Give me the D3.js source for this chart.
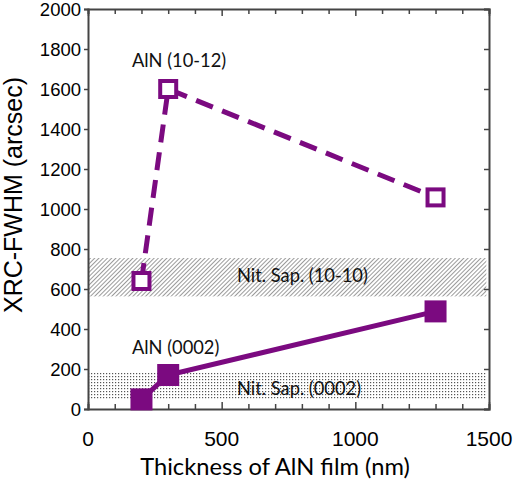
<!DOCTYPE html>
<html><head><meta charset="utf-8">
<script src="https://cdn.jsdelivr.net/npm/d3@7"></script>
<style>body{margin:0;background:#fff}svg{display:block}</style>
</head><body>
<script>
const thickness = [200, 300, 1300];
const fwhm1012 = [640, 1600, 1058];
const fwhm0002 = [48, 170, 488];
const bandLabels = ["Nit. Sap. (10-10)", "Nit. Sap. (0002)"];
const bandLow = [563, 45];
const bandHigh = [755, 180];
const seriesLabels = ["AlN (10-12)", "AlN (0002)"];
const xTicks = [0, 500, 1000, 1500];
const yTicks = [0, 200, 400, 600, 800, 1000, 1200, 1400, 1600, 1800, 2000];

const W = 520, H = 482;
const m = {l: 88, r: 31, t: 9, b: 73};
const purple = "#7b0a80";
const svg = d3.select("body").append("svg").attr("width", W).attr("height", H);
const x = d3.scaleLinear().domain([0, 1500]).range([m.l, W - m.r]);
const y = d3.scaleLinear().domain([0, 2000]).range([H - m.b, m.t]);

const defs = svg.append("defs");
const hatch = defs.append("pattern").attr("id", "hatch").attr("patternUnits", "userSpaceOnUse")
  .attr("width", 3).attr("height", 3).attr("patternTransform", "rotate(45)");
hatch.append("rect").attr("width", 3).attr("height", 3).attr("fill", "#fff");
hatch.append("line").attr("x1", 0).attr("y1", 0).attr("x2", 0).attr("y2", 3)
  .attr("stroke", "#7a7a7a").attr("stroke-width", 1.5);
const dots = defs.append("pattern").attr("id", "dots").attr("patternUnits", "userSpaceOnUse")
  .attr("width", 3).attr("height", 3);
dots.append("rect").attr("width", 3).attr("height", 3).attr("fill", "#fff");
dots.append("rect").attr("x", 1).attr("y", 1).attr("width", 1.2).attr("height", 1.2).attr("fill", "#555");

// bands
svg.selectAll("rect.band").data(bandLow).join("rect").attr("class", "band")
  .attr("x", x(0)).attr("width", x(1490) - x(0))
  .attr("y", (d, i) => y(bandHigh[i])).attr("height", (d, i) => y(d) - y(bandHigh[i]))
  .attr("fill", (d, i) => i === 0 ? "url(#hatch)" : "url(#dots)");

// axes
const axisColor = "#444";
const gx = svg.append("g").attr("transform", `translate(0,${y(0)})`)
  .call(d3.axisBottom(x).tickValues(d3.range(0, 1501, 100)).tickSize(-5).tickFormat(""));
gx.selectAll(".tick line").attr("y2", d => d % 500 === 0 ? -7 : -5);
const gxt = svg.append("g").attr("transform", `translate(0,${y(2000)})`)
  .call(d3.axisTop(x).tickValues(d3.range(0, 1501, 100)).tickSize(-5).tickFormat(""));
gxt.selectAll(".tick line").attr("y2", d => d % 500 === 0 ? 7 : 5);
const gy = svg.append("g").attr("transform", `translate(${x(0)},0)`)
  .call(d3.axisLeft(y).tickValues(yTicks).tickSize(4).tickPadding(3).tickFormat(d3.format("d")));
const gyr = svg.append("g").attr("transform", `translate(${x(1500)},0)`)
  .call(d3.axisRight(y).tickValues(yTicks).tickSize(-5).tickFormat(""));
[gx, gxt, gy, gyr].forEach(g => {
  g.select(".domain").attr("stroke", axisColor).attr("stroke-width", 2);
  g.selectAll(".tick line").attr("stroke", axisColor).attr("stroke-width", 1.5);
});
gy.selectAll("text").attr("font-family", "Liberation Sans, Arial, sans-serif")
  .attr("font-size", 18.5).attr("fill", "#000").attr("dy", "0.34em");

svg.append("g").selectAll("text").data(xTicks).join("text")
  .attr("x", d => x(d)).attr("y", 446).attr("text-anchor", "middle")
  .attr("font-family", "Liberation Sans, Arial, sans-serif").attr("font-size", 21)
  .text(d => d);

// axis labels
svg.append("text").attr("transform", `translate(22,195) rotate(-90)`)
  .attr("text-anchor", "middle").attr("font-family", "Liberation Sans, Arial, sans-serif")
  .attr("font-size", 25).text("XRC-FWHM (arcsec)");
svg.append("text").attr("x", 275).attr("y", 475).attr("text-anchor", "middle")
  .attr("font-family", "Lato, sans-serif").attr("font-size", 23.7)
  .text("Thickness of AlN film (nm)");

// lines
const line = d3.line().x(d => x(d[0])).y(d => y(d[1]));
const d1 = thickness.map((t, i) => [t, fwhm1012[i]]);
const d2 = thickness.map((t, i) => [t, fwhm0002[i]]);
svg.append("path").attr("d", line(d1)).attr("fill", "none").attr("stroke", purple)
  .attr("stroke-width", 5).attr("stroke-dasharray", "18,10");
svg.append("path").attr("d", line(d2)).attr("fill", "none").attr("stroke", purple)
  .attr("stroke-width", 5);

const s = 20;
svg.selectAll("rect.open").data(d1).join("rect").attr("class", "open")
  .attr("x", d => x(d[0]) - (s - 4) / 2).attr("y", d => y(d[1]) - (s - 4) / 2)
  .attr("width", s - 4).attr("height", s - 4)
  .attr("fill", "#fff").attr("stroke", purple).attr("stroke-width", 4);
svg.selectAll("rect.fill").data(d2).join("rect").attr("class", "fill")
  .attr("x", d => x(d[0]) - s / 2 - 1).attr("y", d => y(d[1]) - s / 2 - 1)
  .attr("width", s + 2).attr("height", s + 2).attr("fill", purple);

// annotations
const ann = svg.append("g").attr("font-family", "Lato, sans-serif").attr("font-size", 18.3).attr("fill", "#111");
ann.append("text").attr("x", 132).attr("y", 67).text(seriesLabels[0]);
ann.append("text").attr("x", 237).attr("y", 282).text(bandLabels[0]);
ann.append("text").attr("x", 132).attr("y", 354).text(seriesLabels[1]);
ann.append("text").attr("x", 237).attr("y", 395).text(bandLabels[1]);
</script>
</body></html>
